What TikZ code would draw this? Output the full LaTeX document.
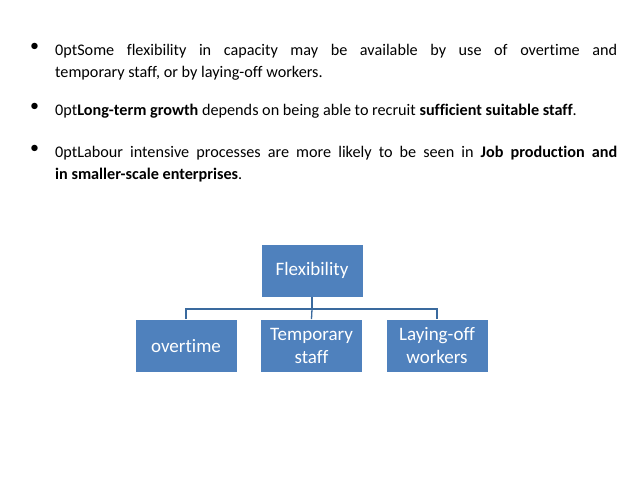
\documentclass[tikz,border=0pt]{standalone}
\usepackage{fontspec}
\setmainfont{Carlito}[Ligatures=NoCommon]
\definecolor{boxblue}{HTML}{4F81BD}
\definecolor{lineblue}{HTML}{3A6A9E}
\begin{document}
\begin{tikzpicture}[x=1pt,y=-1pt,
  box/.style={fill=boxblue,draw=white,line width=0.8pt,minimum width=102pt,minimum height=53pt,text=white,font=\fontsize{19}{23}\selectfont,align=center,inner sep=1pt},
  conn/.style={draw=lineblue,line width=1.3pt},
  para/.style={anchor=north west,text width=562pt,align=justify,font=\fontsize{16.2}{22}\selectfont\hyphenpenalty=10000,inner sep=0pt},
  bul/.style={anchor=north west,font=\fontsize{18}{22}\selectfont,inner sep=0pt}]
\useasboundingbox (0,0) rectangle (638,479);
\node[bul] (b1) at (30,43) {•};
\node[para] (p1) at (55,44) {Some flexibility in capacity may be available by use of overtime and\linebreak temporary staff, or by laying-off workers.};
\node[bul] (b2) at (30,103) {•};
\node[para] (p2) at (55,104) {\textbf{Long-term growth} depends on being able to recruit \textbf{sufficient suitable staff}.};
\node[bul] (b3) at (30,145) {•};
\node[para] (p3) at (55,146) {Labour intensive processes are more likely to be seen in \textbf{Job production and}\linebreak \textbf{in smaller-scale enterprises}.};
\node[box] (f) at (312,270.5) {Flexibility};
\node[box] (o) at (186,346) {overtime};
\node[box] (t) at (311.5,346) {Temporary\\staff};
\node[box] (l) at (437,346) {Laying-off\\workers};
\coordinate (j) at (312,309);
\draw[conn] (f.south) -- (j);
\draw[conn] (o.north) |- (j) -| (l.north);
\draw[conn] (j) -- (t.north);
\end{tikzpicture}
\end{document}
